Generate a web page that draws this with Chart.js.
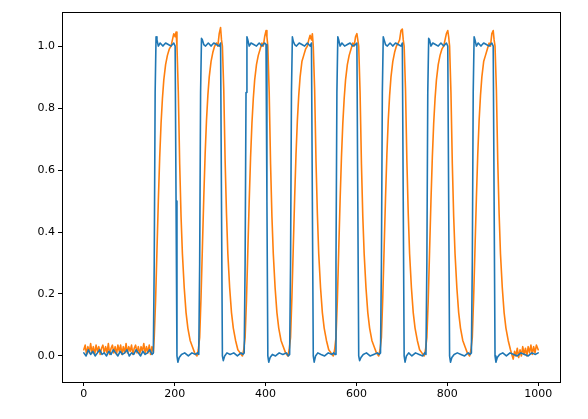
<!DOCTYPE html>
<html><head><meta charset="utf-8">
<script src="https://cdn.jsdelivr.net/npm/chart.js@4"></script>
<style>html,body{margin:0;padding:0;background:#fff}#wrap{width:588px;height:419px}</style>
</head><body><div id="wrap"><canvas id="c" width="588" height="419"></canvas></div>
<script>
const xTicks = [0, 200, 400, 600, 800, 1000];
const yTicks = [0.0, 0.2, 0.4, 0.6, 0.8, 1.0];
const seriesNames = ["setpoint", "response"];
const bluePoints = [
[0,0.01],[5,0.0],[10,0.02],[15,0.005],[20,0.015],[25,0.0],[30,0.01],[35,0.02],[40,0.005],[45,0.01],[50,0.0],[55,0.015],[60,0.005],[65,0.02],[70,0.01],[75,0.0],[80,0.015],[85,0.005],[90,0.01],[95,0.02],[100,0.0],[105,0.01],[110,0.005],[115,0.02],[120,0.01],[125,0.0],[130,0.015],[135,0.005],[140,0.01],[145,0.02],[150,0.005],
[153,0.01],[155,0.3],[157,0.85],[159,1.03],[161,1.02],[164,1.0],[168,1.01],[174,1.0],[180,1.01],[186,1.005],[192,1.0],[198,1.01],[201,1.0],[203,0.5],[205,0.0],[207,-0.02],[210,-0.005],[215,0.005],[222,0.01],[230,0.0],[238,0.01],[246,0.005],[250,0.01],
[253,0.005],[255,0.3],[257,0.85],[259,1.025],[261,1.02],[264,1.005],[268,1.0],[274,1.01],[280,1.0],[286,1.01],[292,1.005],[298,1.0],[301,1.01],[303,0.5],[305,0.0],[307,-0.015],[310,0.0],[315,0.01],[322,0.005],[330,0.01],[338,0.0],[346,0.01],[350,0.005],
[353,0.01],[355,0.3],[357,0.85],[359,1.03],[361,1.02],[364,1.0],[368,1.01],[374,1.005],[380,1.0],[386,1.01],[392,1.0],[398,1.01],[401,1.005],[403,0.5],[405,0.0],[407,-0.02],[410,-0.005],[415,0.005],[422,0.0],[430,0.01],[438,0.005],[446,0.01],[450,0.0],
[453,0.005],[455,0.3],[457,0.85],[459,1.03],[461,1.015],[464,1.005],[468,1.0],[474,1.01],[480,1.005],[486,1.0],[492,1.01],[498,1.0],[501,1.01],[503,0.5],[505,0.0],[507,-0.02],[510,0.0],[515,0.01],[522,0.005],[530,0.0],[538,0.01],[546,0.005],[550,0.01],
[553,0.005],[555,0.3],[557,0.85],[559,1.03],[561,1.02],[564,1.0],[568,1.01],[574,1.0],[580,1.005],[586,1.01],[592,1.0],[598,1.005],[601,1.01],[603,0.5],[605,0.0],[607,-0.015],[610,-0.005],[615,0.005],[622,0.01],[630,0.0],[638,0.005],[646,0.01],[650,0.005],
[653,0.01],[655,0.3],[657,0.85],[659,1.03],[661,1.02],[664,1.005],[668,1.0],[674,1.01],[680,1.0],[686,1.01],[692,1.005],[698,1.0],[701,1.01],[703,0.5],[705,0.0],[707,-0.02],[710,0.0],[715,0.01],[722,0.0],[730,0.01],[738,0.005],[746,0.0],[750,0.01],
[753,0.005],[755,0.3],[757,0.85],[759,1.025],[761,1.02],[764,1.0],[768,1.01],[774,1.005],[780,1.0],[786,1.01],[792,1.0],[798,1.01],[801,1.0],[803,0.5],[805,0.0],[807,-0.02],[810,-0.005],[815,0.005],[822,0.01],[830,0.005],[838,0.0],[846,0.01],[850,0.005],
[853,0.01],[855,0.3],[857,0.85],[859,1.03],[861,1.02],[864,1.0],[868,1.01],[874,1.0],[880,1.01],[886,1.005],[892,1.0],[898,1.01],[901,1.0],[903,0.5],[905,0.0],[907,-0.02],[910,-0.005],[915,0.005],[922,0.01],[930,0.0],[938,0.01],[946,0.005],[954,0.0],[962,0.01],[970,0.005],[978,0.0],[986,0.01],[994,0.005],[1000,0.01]
];
const orangePoints = [
[0,0.02],[3,0.035],[6,0.005],[9,0.03],[12,0.01],[15,0.04],[18,0.01],[21,0.03],[24,0.005],[27,0.035],[30,0.015],[33,0.03],[36,0.005],[39,0.025],[42,0.035],[45,0.01],[48,0.03],[51,0.01],[54,0.04],[57,0.005],[60,0.025],[63,0.035],[66,0.01],[69,0.03],[72,0.005],[75,0.035],[78,0.015],[81,0.035],[84,0.005],[87,0.03],[90,0.01],[93,0.04],[96,0.01],[99,0.03],[102,0.015],[105,0.035],[108,0.005],[111,0.025],[114,0.035],[117,0.01],[120,0.03],[123,0.005],[126,0.03],[129,0.015],[132,0.04],[135,0.01],[138,0.03],[141,0.01],[144,0.035],[147,0.005],[150,0.03],[153,0.01],
[155,0.06],[158,0.18],[161,0.34],[164,0.5],[167,0.64],[170,0.75],[173,0.83],[176,0.89],[180,0.94],[184,0.97],[188,0.99],[192,1.0],[195,1.02],[198,1.04],[201,1.03],[203,1.045],[205,1.0],[208,0.85],[211,0.62],[214,0.45],[217,0.33],[221,0.22],[225,0.14],[229,0.09],[234,0.05],[239,0.03],[244,0.01],[249,0.0],[252,0.02],
[255,0.06],[258,0.19],[261,0.35],[264,0.51],[267,0.65],[270,0.76],[273,0.84],[276,0.9],[280,0.95],[284,0.98],[288,1.0],[292,1.01],[295,1.0],[298,1.04],[301,1.06],[303,1.02],[305,1.0],[308,0.86],[311,0.63],[314,0.46],[317,0.33],[321,0.22],[325,0.14],[329,0.09],[334,0.05],[339,0.02],[344,0.01],[349,0.0],[352,0.02],
[355,0.06],[358,0.18],[361,0.34],[364,0.5],[367,0.64],[370,0.75],[373,0.83],[376,0.89],[380,0.94],[384,0.97],[388,0.99],[392,1.01],[395,1.0],[398,1.03],[401,1.05],[403,1.03],[405,1.0],[408,0.85],[411,0.62],[414,0.45],[417,0.33],[421,0.22],[425,0.14],[429,0.09],[434,0.05],[439,0.03],[444,0.01],[449,0.0],[452,0.02],
[455,0.06],[458,0.19],[461,0.35],[464,0.51],[467,0.65],[470,0.76],[473,0.84],[476,0.9],[480,0.95],[484,0.97],[488,0.99],[492,1.0],[495,1.02],[498,1.035],[501,1.02],[503,1.04],[505,1.0],[508,0.86],[511,0.63],[514,0.46],[517,0.33],[521,0.22],[525,0.14],[529,0.09],[534,0.05],[539,0.02],[544,0.01],[549,0.0],[552,0.02],
[555,0.06],[558,0.18],[561,0.34],[564,0.5],[567,0.64],[570,0.75],[573,0.83],[576,0.89],[580,0.94],[584,0.97],[588,0.99],[592,1.01],[595,1.0],[598,1.03],[601,1.04],[603,1.02],[605,1.0],[608,0.85],[611,0.62],[614,0.45],[617,0.33],[621,0.22],[625,0.14],[629,0.09],[634,0.05],[639,0.03],[644,0.01],[649,0.0],[652,0.02],
[655,0.06],[658,0.19],[661,0.35],[664,0.51],[667,0.65],[670,0.76],[673,0.84],[676,0.9],[680,0.95],[684,0.98],[688,1.0],[692,1.01],[695,1.02],[698,1.05],[701,1.055],[703,1.02],[705,1.0],[708,0.86],[711,0.63],[714,0.46],[717,0.33],[721,0.22],[725,0.14],[729,0.09],[734,0.05],[739,0.02],[744,0.01],[749,0.0],[752,0.02],
[755,0.06],[758,0.18],[761,0.34],[764,0.5],[767,0.64],[770,0.75],[773,0.83],[776,0.89],[780,0.94],[784,0.97],[788,0.99],[792,1.0],[795,1.02],[798,1.04],[801,1.05],[803,1.03],[805,1.0],[808,0.85],[811,0.62],[814,0.45],[817,0.33],[821,0.22],[825,0.14],[829,0.09],[834,0.05],[839,0.03],[844,0.01],[849,0.0],[852,0.02],
[855,0.06],[858,0.19],[861,0.35],[864,0.51],[867,0.65],[870,0.76],[873,0.84],[876,0.9],[880,0.95],[884,0.97],[888,0.99],[892,1.01],[895,1.0],[898,1.04],[901,1.05],[903,1.02],[905,1.0],[908,0.86],[911,0.63],[914,0.46],[917,0.33],[921,0.22],[925,0.14],[929,0.09],[934,0.05],[939,0.02],[942,0.005],[945,-0.01],[948,0.015],[951,0.0],[954,0.025],[957,-0.005],[960,0.02],[963,0.0],[966,0.03],[969,0.005],[972,0.025],[975,0.0],[978,0.03],[981,0.01],[984,0.035],[987,0.005],[990,0.03],[993,0.01],[996,0.035],[1000,0.02]
];
const toXY = a => a.map(p => ({x: p[0], y: p[1]}));
const frame = {id:'frame', afterDraw(c){const a=c.chartArea,g=c.ctx;g.save();g.strokeStyle='#000';g.lineWidth=1;g.strokeRect(Math.round(a.left)+0.5,Math.round(a.top)+0.5,Math.round(a.right-a.left),Math.round(a.bottom-a.top));g.restore();}};
new Chart(document.getElementById('c'), {
  type: 'line',
  data: { datasets: [
    {label: seriesNames[0], data: toXY(bluePoints), borderColor:'#1f77b4', borderWidth:1.6, borderJoinStyle:'round', borderCapStyle:'round', pointRadius:0, tension:0},
    {label: seriesNames[1], data: toXY(orangePoints), borderColor:'#ff7f0e', borderWidth:1.6, borderJoinStyle:'round', borderCapStyle:'round', pointRadius:0, tension:0}
  ]},
  options: {
    responsive:false, animation:false, devicePixelRatio:1,
    layout:{padding:{top:12,right:28,left:0,bottom:0}},
    plugins:{legend:{display:false}, tooltip:{enabled:false}},
    scales:{
      x:{type:'linear', min:-48, max:1048,
        afterFit(s){s.height=37;},
        afterBuildTicks(s){s.ticks=xTicks.map(v=>({value:v}));},
        grid:{drawOnChartArea:false, tickLength:4, color:'#000'},
        border:{color:'#000'},
        ticks:{color:'#000', font:{family:'DejaVu Sans', size:11}, padding:2, maxRotation:0, callback:v=>String(v)}},
      y:{type:'linear', min:-0.084, max:1.11,
        afterFit(s){s.width=62;},
        afterBuildTicks(s){s.ticks=yTicks.map(v=>({value:v}));},
        grid:{drawOnChartArea:false, tickLength:4, color:'#000'},
        border:{color:'#000'},
        ticks:{color:'#000', font:{family:'DejaVu Sans', size:11}, padding:3, callback:v=>v.toFixed(1)}}
    }
  },
  plugins:[frame]
});
</script></body></html>
